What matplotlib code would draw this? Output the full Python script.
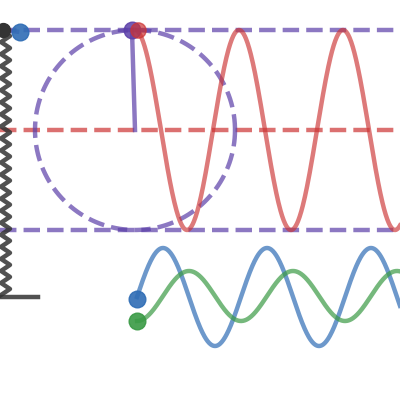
import numpy as np
import matplotlib
matplotlib.use("Agg")
import matplotlib.pyplot as plt

# wave parameters (pixel units)
x0 = 135
period = 104
red_center, red_amp = 130, 100
blue_center, blue_amp = 297, 49
green_center, green_amp = 296, 25
circle_center = (135, 130)
circle_r = 100
spring_top, spring_bottom, spring_coils = 30, 295, 22

fig = plt.figure(figsize=(4, 4), dpi=100)
ax = fig.add_axes([0, 0, 1, 1])
ax.set_xlim(0, 400)
ax.set_ylim(400, 0)
ax.axis('off')

purple = '#5b3fa8'
red = '#cc3333'
blue = '#2f6db5'
green = '#3a9a45'

lw = 3.2
ax.plot([0, 400], [30, 30], '--', color=purple, lw=lw, alpha=0.7)
ax.plot([0, 400], [230, 230], '--', color=purple, lw=lw, alpha=0.7)
ax.plot([0, 400], [130, 130], '--', color=red, lw=lw, alpha=0.7)

t = np.linspace(0, 2 * np.pi, 300)
ax.plot(circle_center[0] + circle_r * np.cos(t), circle_center[1] + circle_r * np.sin(t),
        '--', color=purple, lw=lw, alpha=0.7)
ax.plot([135, 132], [130, 30], color=purple, lw=lw, alpha=0.7)

x = np.linspace(x0, 400, 500)
ph = 2 * np.pi * (x - x0) / period
ax.plot(x, red_center - red_amp * np.cos(ph), color=red, lw=lw, alpha=0.65)
xb = np.linspace(137, 400, 500)
phb = 2 * np.pi * (xb - 137) / period
ax.plot(xb, blue_center - blue_amp * np.sin(phb), color=blue, lw=lw, alpha=0.7)
ax.plot(xb, green_center + green_amp * np.cos(phb), color=green, lw=lw, alpha=0.7)

# spring
ys = np.linspace(spring_top, spring_bottom, 2 * spring_coils + 1)
xs = np.where(np.arange(len(ys)) % 2 == 0, 1, 10)
ax.plot(xs, ys, color='#333333', lw=lw, alpha=0.85)
ax.plot([0, 38], [297, 297], color='#333333', lw=lw, alpha=0.85)
ax.plot([3, 20], [30, 32], '--', color=purple, lw=lw, alpha=0.7)

ax.plot(3, 30, 'o', color='#333333', ms=10)
ax.plot(20, 32, 'o', color=blue, ms=12, alpha=0.9)
ax.plot(132, 30, 'o', color=purple, ms=12, alpha=0.85)
ax.plot(138, 30, 'o', color=red, ms=11, alpha=0.7)
ax.plot(137, 299, 'o', color=blue, ms=12, alpha=0.9)
ax.plot(137, 321, 'o', color=green, ms=12, alpha=0.9)

fig.savefig('out.png', dpi=100)
